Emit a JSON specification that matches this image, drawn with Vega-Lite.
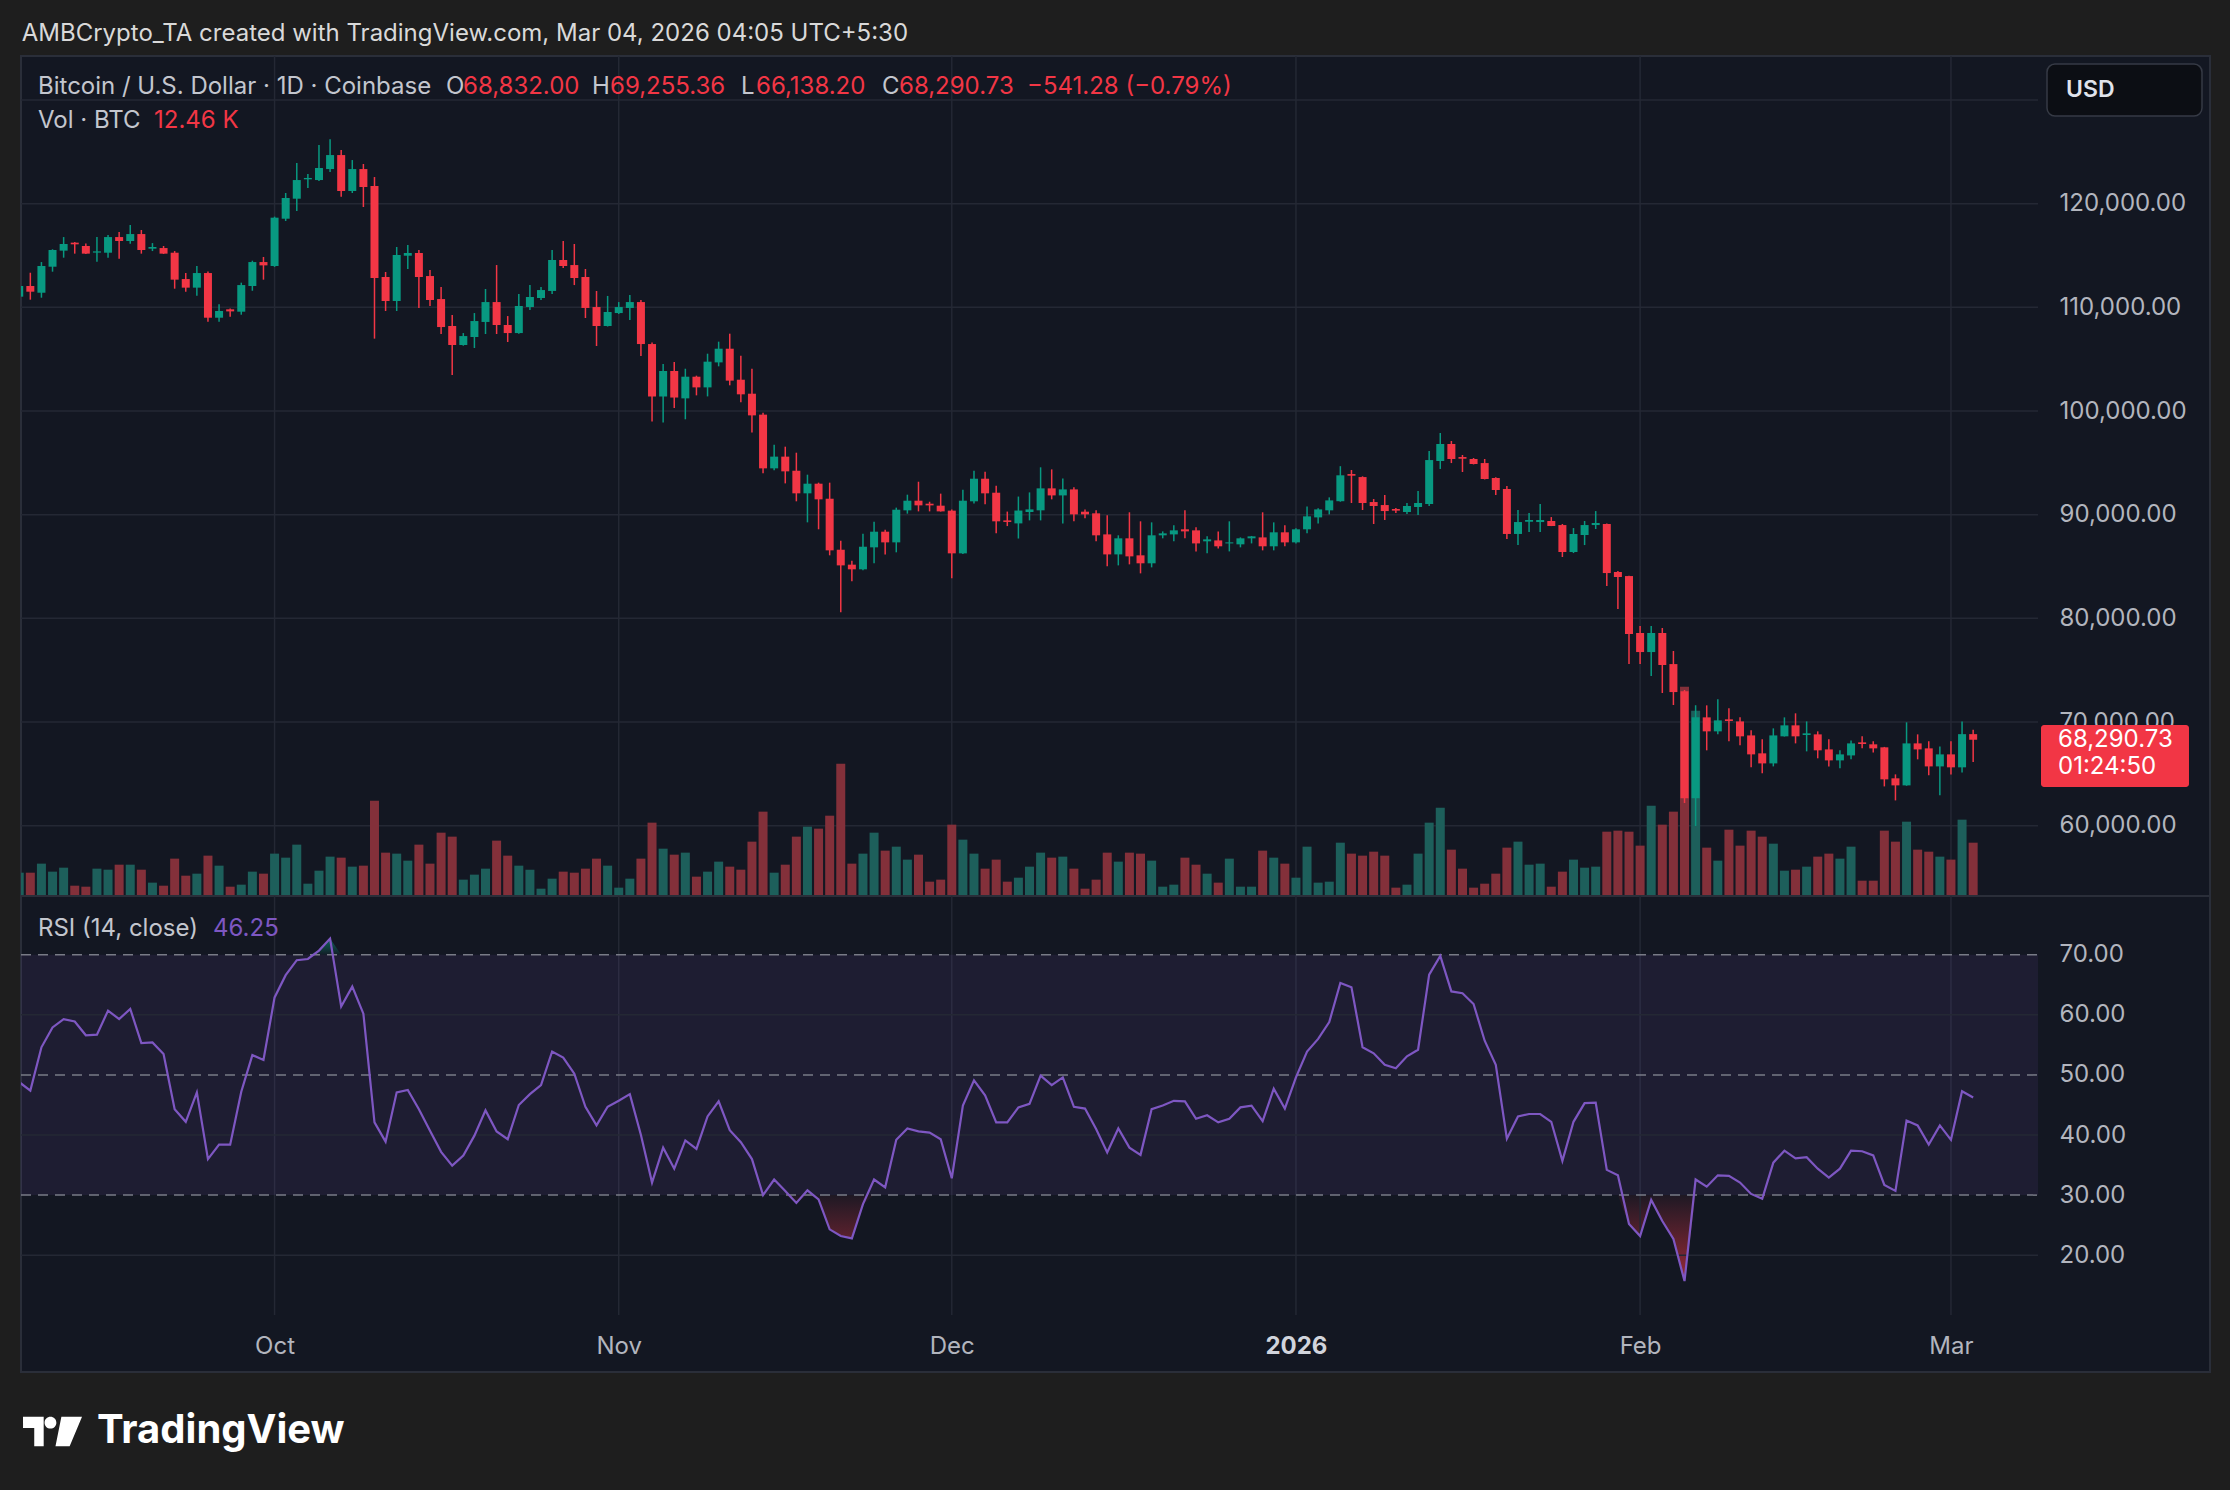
{
"$schema":"https://vega.github.io/schema/vega-lite/v6.json",
"background":"#1e1e1e",
"padding":{"left":19,"top":21,"right":20,"bottom":40},
"spacing":0,
"bounds":"flush",
"config":{"view":{"fill":"#131722","stroke":"#2a2e39","strokeWidth":2},"font":"Inter","text":{"font":"Inter"},"scale":{"continuousPadding":0}},
"datasets":{
"months":[{"d":"2025-10-01"},{"d":"2025-11-01"},{"d":"2025-12-01"},{"d":"2026-01-01"},{"d":"2026-02-01"},{"d":"2026-03-01"}],
"pgrid":[{"p":60000},{"p":70000},{"p":80000},{"p":90000},{"p":100000},{"p":110000},{"p":120000},{"p":130000}],
"rgrid":[{"g":20},{"g":40},{"g":60}],
"rdash":[{"g":30},{"g":50},{"g":70}],
"btc":[
{"d":"2025-09-08","o":111030,"h":112300,"l":110800,"c":112060,"v":5.45,"r":48.8},
{"d":"2025-09-09","o":112060,"h":113340,"l":110740,"c":111510,"v":5.45,"r":47.4},
{"d":"2025-09-10","o":111410,"h":114370,"l":110930,"c":113990,"v":7.56,"r":54.6},
{"d":"2025-09-11","o":113920,"h":115600,"l":113440,"c":115530,"v":5.69,"r":57.9},
{"d":"2025-09-12","o":115470,"h":116780,"l":114790,"c":116110,"v":6.62,"r":59.3},
{"d":"2025-09-13","o":116240,"h":116300,"l":115180,"c":116080,"v":2.41,"r":58.9},
{"d":"2025-09-14","o":115920,"h":116170,"l":115150,"c":115180,"v":2.18,"r":56.6},
{"d":"2025-09-15","o":115280,"h":116780,"l":114410,"c":115400,"v":6.39,"r":56.7},
{"d":"2025-09-16","o":115270,"h":116980,"l":114790,"c":116780,"v":6.15,"r":60.7},
{"d":"2025-09-17","o":116780,"h":117270,"l":114690,"c":116400,"v":7.32,"r":59.3},
{"d":"2025-09-18","o":116400,"h":117940,"l":116140,"c":117070,"v":7.32,"r":61.0},
{"d":"2025-09-19","o":117070,"h":117460,"l":115180,"c":115530,"v":6.15,"r":55.3},
{"d":"2025-09-20","o":115660,"h":116200,"l":115430,"c":115820,"v":3.12,"r":55.4},
{"d":"2025-09-21","o":115720,"h":115920,"l":115150,"c":115180,"v":2.41,"r":53.5},
{"d":"2025-09-22","o":115270,"h":115430,"l":111800,"c":112670,"v":8.73,"r":44.3},
{"d":"2025-09-23","o":112730,"h":113310,"l":111510,"c":111900,"v":4.75,"r":42.2},
{"d":"2025-09-24","o":111900,"h":113990,"l":111130,"c":113310,"v":5.22,"r":47.1},
{"d":"2025-09-25","o":113310,"h":113470,"l":108620,"c":109000,"v":9.43,"r":36.0},
{"d":"2025-09-26","o":109000,"h":110290,"l":108620,"c":109650,"v":7.09,"r":38.4},
{"d":"2025-09-27","o":109810,"h":109900,"l":109100,"c":109610,"v":2.18,"r":38.4},
{"d":"2025-09-28","o":109580,"h":112380,"l":109290,"c":112150,"v":2.65,"r":47.2},
{"d":"2025-09-29","o":112060,"h":114500,"l":111600,"c":114370,"v":5.69,"r":53.3},
{"d":"2025-09-30","o":114370,"h":114860,"l":112670,"c":114050,"v":5.22,"r":52.5},
{"d":"2025-10-01","o":113990,"h":118750,"l":113900,"c":118650,"v":9.9,"r":62.9},
{"d":"2025-10-02","o":118550,"h":121030,"l":118330,"c":120550,"v":8.96,"r":66.6},
{"d":"2025-10-03","o":120480,"h":123920,"l":119290,"c":122280,"v":12.0,"r":69.1},
{"d":"2025-10-04","o":122350,"h":122860,"l":121510,"c":122480,"v":2.88,"r":69.3},
{"d":"2025-10-05","o":122280,"h":125660,"l":122190,"c":123440,"v":5.92,"r":70.7},
{"d":"2025-10-06","o":123340,"h":126210,"l":123050,"c":124690,"v":9.2,"r":72.7},
{"d":"2025-10-07","o":124690,"h":125180,"l":120680,"c":121220,"v":8.96,"r":61.4},
{"d":"2025-10-08","o":121220,"h":124210,"l":121030,"c":123340,"v":6.86,"r":64.7},
{"d":"2025-10-09","o":123340,"h":123830,"l":119680,"c":121610,"v":7.09,"r":60.2},
{"d":"2025-10-10","o":121700,"h":122570,"l":106980,"c":112830,"v":22.28,"r":42.1},
{"d":"2025-10-11","o":112930,"h":113410,"l":109650,"c":110610,"v":10.13,"r":38.9},
{"d":"2025-10-12","o":110610,"h":115820,"l":109650,"c":115050,"v":9.9,"r":47.1},
{"d":"2025-10-13","o":114980,"h":116010,"l":113700,"c":115240,"v":8.26,"r":47.5},
{"d":"2025-10-14","o":115240,"h":115530,"l":109940,"c":112930,"v":12.0,"r":44.3},
{"d":"2025-10-15","o":113020,"h":113600,"l":110130,"c":110710,"v":7.56,"r":40.7},
{"d":"2025-10-16","o":110800,"h":111960,"l":107430,"c":108100,"v":14.8,"r":37.2},
{"d":"2025-10-17","o":108200,"h":109260,"l":103470,"c":106370,"v":13.87,"r":34.9},
{"d":"2025-10-18","o":106370,"h":107520,"l":106300,"c":107230,"v":3.82,"r":36.6},
{"d":"2025-10-19","o":107140,"h":109450,"l":106080,"c":108680,"v":4.99,"r":39.9},
{"d":"2025-10-20","o":108590,"h":111770,"l":107430,"c":110510,"v":6.39,"r":44.1},
{"d":"2025-10-21","o":110510,"h":114080,"l":107430,"c":108300,"v":12.94,"r":40.6},
{"d":"2025-10-22","o":108300,"h":109160,"l":106660,"c":107520,"v":9.43,"r":39.3},
{"d":"2025-10-23","o":107520,"h":111290,"l":107450,"c":110130,"v":7.09,"r":45.0},
{"d":"2025-10-24","o":110030,"h":112150,"l":109740,"c":111000,"v":6.15,"r":46.8},
{"d":"2025-10-25","o":110900,"h":111960,"l":110710,"c":111670,"v":1.71,"r":48.3},
{"d":"2025-10-26","o":111580,"h":115530,"l":111290,"c":114570,"v":4.05,"r":53.9},
{"d":"2025-10-27","o":114570,"h":116400,"l":113800,"c":113990,"v":5.69,"r":52.9},
{"d":"2025-10-28","o":114080,"h":116110,"l":112150,"c":112830,"v":5.45,"r":50.2},
{"d":"2025-10-29","o":112930,"h":113700,"l":108970,"c":109940,"v":6.39,"r":44.7},
{"d":"2025-10-30","o":110030,"h":111580,"l":106270,"c":108200,"v":8.73,"r":41.6},
{"d":"2025-10-31","o":108200,"h":111100,"l":108150,"c":109550,"v":7.09,"r":44.7},
{"d":"2025-11-01","o":109450,"h":110510,"l":109360,"c":110030,"v":1.95,"r":45.7},
{"d":"2025-11-02","o":109940,"h":111190,"l":108780,"c":110510,"v":4.05,"r":46.8},
{"d":"2025-11-03","o":110510,"h":110710,"l":105310,"c":106460,"v":8.73,"r":40.0},
{"d":"2025-11-04","o":106460,"h":106600,"l":99000,"c":101400,"v":17.14,"r":32.1},
{"d":"2025-11-05","o":101400,"h":104530,"l":98900,"c":103860,"v":11.06,"r":37.9},
{"d":"2025-11-06","o":103860,"h":104730,"l":100300,"c":101300,"v":9.66,"r":34.4},
{"d":"2025-11-07","o":101220,"h":104080,"l":99200,"c":103310,"v":10.13,"r":39.1},
{"d":"2025-11-08","o":103310,"h":103410,"l":101510,"c":102280,"v":4.52,"r":37.7},
{"d":"2025-11-09","o":102280,"h":105530,"l":101410,"c":104760,"v":5.69,"r":43.1},
{"d":"2025-11-10","o":104690,"h":106690,"l":104310,"c":106010,"v":8.03,"r":45.6},
{"d":"2025-11-11","o":106010,"h":107460,"l":102480,"c":102930,"v":6.86,"r":40.8},
{"d":"2025-11-12","o":103020,"h":105340,"l":100840,"c":101610,"v":6.15,"r":38.8},
{"d":"2025-11-13","o":101670,"h":104080,"l":97940,"c":99580,"v":12.7,"r":36.0},
{"d":"2025-11-14","o":99650,"h":99840,"l":93990,"c":94470,"v":19.71,"r":30.0},
{"d":"2025-11-15","o":94470,"h":96750,"l":94280,"c":95600,"v":5.45,"r":32.6},
{"d":"2025-11-16","o":95600,"h":96560,"l":93020,"c":94180,"v":7.32,"r":30.7},
{"d":"2025-11-17","o":94240,"h":95980,"l":91290,"c":92060,"v":13.87,"r":28.7},
{"d":"2025-11-18","o":92060,"h":93860,"l":89260,"c":92990,"v":16.2,"r":30.8},
{"d":"2025-11-19","o":92990,"h":93090,"l":88590,"c":91480,"v":15.74,"r":29.3},
{"d":"2025-11-20","o":91540,"h":93090,"l":86080,"c":86560,"v":18.77,"r":24.3},
{"d":"2025-11-21","o":86620,"h":87490,"l":80580,"c":85110,"v":30.93,"r":23.2},
{"d":"2025-11-22","o":85180,"h":85560,"l":83570,"c":84730,"v":7.56,"r":22.8},
{"d":"2025-11-23","o":84730,"h":88170,"l":84650,"c":86910,"v":9.9,"r":28.5},
{"d":"2025-11-24","o":86850,"h":89320,"l":85310,"c":88360,"v":14.8,"r":32.6},
{"d":"2025-11-25","o":88360,"h":88550,"l":86170,"c":87330,"v":10.6,"r":31.3},
{"d":"2025-11-26","o":87330,"h":90680,"l":86370,"c":90480,"v":11.53,"r":39.2},
{"d":"2025-11-27","o":90420,"h":91930,"l":90100,"c":91350,"v":8.5,"r":41.1},
{"d":"2025-11-28","o":91350,"h":93180,"l":90320,"c":90900,"v":9.66,"r":40.6},
{"d":"2025-11-29","o":91060,"h":91250,"l":90320,"c":90900,"v":3.35,"r":40.4},
{"d":"2025-11-30","o":90870,"h":92030,"l":90300,"c":90320,"v":3.82,"r":39.3},
{"d":"2025-12-01","o":90390,"h":90500,"l":83860,"c":86270,"v":16.67,"r":32.8},
{"d":"2025-12-02","o":86270,"h":92410,"l":86200,"c":91350,"v":13.17,"r":44.9},
{"d":"2025-12-03","o":91290,"h":94240,"l":91090,"c":93470,"v":9.9,"r":49.1},
{"d":"2025-12-04","o":93470,"h":94150,"l":91000,"c":92060,"v":6.39,"r":46.6},
{"d":"2025-12-05","o":92120,"h":92800,"l":88200,"c":89360,"v":8.5,"r":42.1},
{"d":"2025-12-06","o":89450,"h":90300,"l":88900,"c":89300,"v":3.35,"r":42.1},
{"d":"2025-12-07","o":89160,"h":91750,"l":87700,"c":90400,"v":4.28,"r":44.6},
{"d":"2025-12-08","o":90260,"h":92150,"l":89450,"c":90510,"v":6.86,"r":45.2},
{"d":"2025-12-09","o":90420,"h":94570,"l":89450,"c":92540,"v":10.13,"r":49.9},
{"d":"2025-12-10","o":92540,"h":94370,"l":91480,"c":91860,"v":8.96,"r":48.3},
{"d":"2025-12-11","o":91860,"h":93500,"l":89160,"c":92440,"v":9.2,"r":49.6},
{"d":"2025-12-12","o":92440,"h":92640,"l":89360,"c":90030,"v":6.39,"r":44.7},
{"d":"2025-12-13","o":90290,"h":90510,"l":89650,"c":90030,"v":1.71,"r":44.4},
{"d":"2025-12-14","o":90130,"h":90420,"l":87430,"c":88010,"v":3.82,"r":41.0},
{"d":"2025-12-15","o":88100,"h":89940,"l":85020,"c":86170,"v":10.13,"r":37.1},
{"d":"2025-12-16","o":86170,"h":88010,"l":85110,"c":87720,"v":8.03,"r":41.1},
{"d":"2025-12-17","o":87720,"h":90230,"l":85210,"c":85980,"v":10.13,"r":37.9},
{"d":"2025-12-18","o":86080,"h":89360,"l":84340,"c":85310,"v":9.9,"r":36.7},
{"d":"2025-12-19","o":85310,"h":89260,"l":84920,"c":88010,"v":8.26,"r":44.3},
{"d":"2025-12-20","o":88010,"h":88390,"l":87720,"c":88200,"v":2.18,"r":44.9},
{"d":"2025-12-21","o":88100,"h":88970,"l":87430,"c":88490,"v":2.65,"r":45.7},
{"d":"2025-12-22","o":88590,"h":90420,"l":87720,"c":88390,"v":8.96,"r":45.6},
{"d":"2025-12-23","o":88490,"h":88780,"l":86460,"c":87230,"v":7.32,"r":42.7},
{"d":"2025-12-24","o":87430,"h":87910,"l":86270,"c":87620,"v":5.22,"r":43.3},
{"d":"2025-12-25","o":87520,"h":88390,"l":86750,"c":86950,"v":3.12,"r":42.1},
{"d":"2025-12-26","o":87230,"h":89360,"l":86460,"c":87330,"v":8.73,"r":42.7},
{"d":"2025-12-27","o":87140,"h":87810,"l":86850,"c":87720,"v":2.18,"r":44.6},
{"d":"2025-12-28","o":87720,"h":87950,"l":87230,"c":87910,"v":2.18,"r":44.9},
{"d":"2025-12-29","o":87810,"h":90230,"l":86560,"c":86950,"v":10.6,"r":42.3},
{"d":"2025-12-30","o":86950,"h":89260,"l":86560,"c":88300,"v":8.96,"r":47.7},
{"d":"2025-12-31","o":88300,"h":88970,"l":86950,"c":87330,"v":7.56,"r":44.4},
{"d":"2026-01-01","o":87330,"h":88680,"l":87230,"c":88590,"v":4.28,"r":49.6},
{"d":"2026-01-02","o":88590,"h":90800,"l":88200,"c":89840,"v":11.53,"r":53.9},
{"d":"2026-01-03","o":89740,"h":90610,"l":89160,"c":90510,"v":3.12,"r":56.0},
{"d":"2026-01-04","o":90420,"h":91670,"l":90030,"c":91380,"v":3.35,"r":58.8},
{"d":"2026-01-05","o":91300,"h":94680,"l":91250,"c":93800,"v":12.46,"r":65.3},
{"d":"2026-01-06","o":93920,"h":94310,"l":91130,"c":93760,"v":9.9,"r":64.6},
{"d":"2026-01-07","o":93630,"h":93700,"l":90450,"c":91130,"v":9.43,"r":54.6},
{"d":"2026-01-08","o":91220,"h":91510,"l":89100,"c":90840,"v":10.36,"r":53.6},
{"d":"2026-01-09","o":90930,"h":91900,"l":89490,"c":90350,"v":9.43,"r":51.7},
{"d":"2026-01-10","o":90550,"h":90640,"l":90160,"c":90390,"v":1.95,"r":51.1},
{"d":"2026-01-11","o":90260,"h":91130,"l":90060,"c":90840,"v":2.65,"r":53.1},
{"d":"2026-01-12","o":90740,"h":92280,"l":89970,"c":91130,"v":9.9,"r":54.2},
{"d":"2026-01-13","o":91030,"h":96140,"l":90840,"c":95270,"v":17.14,"r":66.7},
{"d":"2026-01-14","o":95180,"h":97880,"l":94410,"c":96820,"v":20.65,"r":69.8},
{"d":"2026-01-15","o":96820,"h":97110,"l":94980,"c":95370,"v":10.83,"r":63.9},
{"d":"2026-01-16","o":95560,"h":95760,"l":94120,"c":95400,"v":6.39,"r":63.6},
{"d":"2026-01-17","o":95370,"h":95470,"l":94850,"c":94890,"v":1.95,"r":61.8},
{"d":"2026-01-18","o":94980,"h":95370,"l":93400,"c":93440,"v":2.88,"r":55.7},
{"d":"2026-01-19","o":93540,"h":93600,"l":91900,"c":92380,"v":5.22,"r":51.7},
{"d":"2026-01-20","o":92480,"h":92770,"l":87650,"c":88140,"v":11.3,"r":39.4},
{"d":"2026-01-21","o":88140,"h":90450,"l":87070,"c":89290,"v":12.7,"r":43.1},
{"d":"2026-01-22","o":89320,"h":90160,"l":88330,"c":89490,"v":7.32,"r":43.5},
{"d":"2026-01-23","o":89290,"h":91030,"l":88330,"c":89490,"v":7.56,"r":43.5},
{"d":"2026-01-24","o":89390,"h":89770,"l":88900,"c":88910,"v":2.18,"r":42.2},
{"d":"2026-01-25","o":89000,"h":89100,"l":85920,"c":86400,"v":5.69,"r":35.7},
{"d":"2026-01-26","o":86400,"h":88710,"l":86300,"c":88140,"v":8.5,"r":42.2},
{"d":"2026-01-27","o":88040,"h":89390,"l":87070,"c":89000,"v":6.62,"r":45.3},
{"d":"2026-01-28","o":89000,"h":90350,"l":88620,"c":89200,"v":6.86,"r":45.4},
{"d":"2026-01-29","o":89100,"h":89150,"l":83120,"c":84370,"v":15.03,"r":34.2},
{"d":"2026-01-30","o":84470,"h":84570,"l":80900,"c":83990,"v":15.27,"r":33.3},
{"d":"2026-01-31","o":84080,"h":84100,"l":75590,"c":78490,"v":15.03,"r":25.2},
{"d":"2026-02-01","o":78590,"h":79260,"l":75590,"c":76750,"v":11.77,"r":23.2},
{"d":"2026-02-02","o":76750,"h":79260,"l":74440,"c":78590,"v":21.11,"r":29.2},
{"d":"2026-02-03","o":78590,"h":79070,"l":72800,"c":75500,"v":16.67,"r":25.7},
{"d":"2026-02-04","o":75590,"h":76850,"l":71640,"c":72890,"v":19.71,"r":22.7},
{"d":"2026-02-05","o":72970,"h":73090,"l":62190,"c":62650,"v":48.9,"r":15.7},
{"d":"2026-02-06","o":62650,"h":71620,"l":59970,"c":70460,"v":43.3,"r":32.6},
{"d":"2026-02-07","o":70450,"h":71610,"l":67270,"c":69100,"v":11.3,"r":31.4},
{"d":"2026-02-08","o":69100,"h":72190,"l":68810,"c":70160,"v":8.26,"r":33.3},
{"d":"2026-02-09","o":70260,"h":71320,"l":68140,"c":70100,"v":15.5,"r":33.2},
{"d":"2026-02-10","o":70060,"h":70450,"l":67750,"c":68620,"v":11.77,"r":32.1},
{"d":"2026-02-11","o":68710,"h":69200,"l":65630,"c":66880,"v":15.27,"r":30.2},
{"d":"2026-02-12","o":66980,"h":68330,"l":65050,"c":66010,"v":13.87,"r":29.4},
{"d":"2026-02-13","o":66010,"h":69390,"l":65720,"c":68710,"v":12.23,"r":35.4},
{"d":"2026-02-14","o":68620,"h":70450,"l":68600,"c":69680,"v":5.92,"r":37.4},
{"d":"2026-02-15","o":69680,"h":70840,"l":67940,"c":68620,"v":6.15,"r":36.1},
{"d":"2026-02-16","o":68750,"h":70060,"l":67170,"c":68910,"v":6.86,"r":36.3},
{"d":"2026-02-17","o":68810,"h":69100,"l":66500,"c":67270,"v":9.2,"r":34.4},
{"d":"2026-02-18","o":67360,"h":68330,"l":65720,"c":66300,"v":9.9,"r":32.9},
{"d":"2026-02-19","o":66300,"h":67270,"l":65530,"c":66880,"v":8.73,"r":34.4},
{"d":"2026-02-20","o":66780,"h":68230,"l":66400,"c":67940,"v":11.53,"r":37.4},
{"d":"2026-02-21","o":68040,"h":68620,"l":67460,"c":67880,"v":3.58,"r":37.3},
{"d":"2026-02-22","o":67850,"h":68140,"l":67070,"c":67460,"v":3.58,"r":36.6},
{"d":"2026-02-23","o":67560,"h":67600,"l":63790,"c":64470,"v":15.27,"r":31.7},
{"d":"2026-02-24","o":64570,"h":64950,"l":62440,"c":63890,"v":12.7,"r":30.7},
{"d":"2026-02-25","o":63890,"h":69970,"l":63850,"c":67940,"v":17.37,"r":42.4},
{"d":"2026-02-26","o":67940,"h":68810,"l":66400,"c":67360,"v":10.83,"r":41.6},
{"d":"2026-02-27","o":67460,"h":68140,"l":64860,"c":65720,"v":10.36,"r":38.4},
{"d":"2026-02-28","o":65720,"h":67650,"l":62930,"c":66880,"v":9.2,"r":41.6},
{"d":"2026-03-01","o":66880,"h":68140,"l":64950,"c":65630,"v":8.5,"r":39.2},
{"d":"2026-03-02","o":65630,"h":70060,"l":65140,"c":68832,"v":17.84,"r":47.3},
{"d":"2026-03-03","o":68832,"h":69255.36,"l":66138.2,"c":68290.73,"v":12.46,"r":46.25}
]},
"vconcat":[
{
"width":2189,"height":840,
"resolve":{"scale":{"y":"independent"}},
"layer":[
 {"layer":[
  {"data":{"name":"months"},"mark":{"type":"rule","color":"#242834","strokeWidth":1.5},
   "encoding":{"x":{"field":"d","type":"temporal","axis":null,"scale":{"type":"utc","nice":false,"padding":0,"range":[0,2017],"domain":[{"year":2025,"month":9,"date":8,"hours":3,"minutes":50,"utc":true},{"year":2026,"month":3,"date":8,"hours":20,"minutes":10,"utc":true}]}}}},
  {"data":{"name":"pgrid"},"mark":{"type":"rule","color":"#242834","strokeWidth":1.5},
   "encoding":{"y":{"field":"p","type":"quantitative","axis":null,"scale":{"domain":[53219,134245],"nice":false,"zero":false}},
    "x":{"datum":{"year":2025,"month":9,"date":8,"hours":3,"minutes":50,"utc":true},"type":"temporal","axis":null},
    "x2":{"datum":{"year":2026,"month":3,"date":8,"hours":20,"minutes":10,"utc":true}}}}
 ]},
 {"data":{"name":"btc"},"mark":{"type":"bar","width":9,"clip":true},
  "encoding":{"x":{"field":"d","type":"temporal","axis":null,"scale":{"type":"utc","nice":false,"padding":0,"range":[0,2017],"domain":[{"year":2025,"month":9,"date":8,"hours":3,"minutes":50,"utc":true},{"year":2026,"month":3,"date":8,"hours":20,"minutes":10,"utc":true}]}},
   "y":{"field":"v","type":"quantitative","axis":null,"scale":{"domain":[0,196.3],"nice":false,"padding":0}},
   "color":{"condition":{"test":"datum.c >= datum.o","value":"#1d5f5b"},"value":"#83303a"}}},
 {"layer":[
  {"data":{"name":"btc"},"mark":{"type":"rule","strokeWidth":1.5,"clip":true},
   "encoding":{"x":{"field":"d","type":"temporal","axis":null},
    "y":{"field":"l","type":"quantitative","scale":{"domain":[53219,134245],"nice":false,"zero":false,"padding":0},
     "axis":{"orient":"right","values":[60000,70000,80000,90000,100000,110000,120000],"format":",.2f","offset":-171,"labelPadding":20,"tickSize":0,"ticks":false,"domain":false,"grid":false,"labelFontSize":24,"labelColor":"#b2b5be","labelFont":"Inter","title":null,"labelOverlap":false,"labelBaseline":"middle","labelAlign":"left"}},
    "y2":{"field":"h"},
    "color":{"condition":{"test":"datum.c >= datum.o","value":"#089981"},"value":"#f23645"}}},
  {"data":{"name":"btc"},"mark":{"type":"bar","width":8,"clip":true,"minBandSize":1.5},
   "encoding":{"x":{"field":"d","type":"temporal","axis":null},
    "y":{"field":"o","type":"quantitative"},"y2":{"field":"c"},
    "color":{"condition":{"test":"datum.c >= datum.o","value":"#089981"},"value":"#f23645"}}},
  {"data":{"values":[{}]},"mark":{"type":"text","text":"AMBCrypto_TA created with TradingView.com, Mar 04, 2026 04:05 UTC+5:30","align":"left","baseline":"middle","fontSize":24,"color":"#d9d9d9"},
   "encoding":{"x":{"datum":{"year":2025,"month":9,"date":8,"hours":5,"minutes":20,"utc":true},"type":"temporal","axis":null},"y":{"datum":136367,"type":"quantitative"}}},
  {"data":{"values":[{}]},"mark":{"type":"text","text":"Bitcoin / U.S. Dollar · 1D · Coinbase","align":"left","baseline":"middle","fontSize":24,"color":"#c3c6ce"},
   "encoding":{"x":{"datum":{"year":2025,"month":9,"date":9,"hours":16,"minutes":35,"utc":true},"type":"temporal","axis":null},"y":{"datum":131255,"type":"quantitative"}}},
  {"data":{"values":[{}]},"mark":{"type":"text","text":"O","align":"left","baseline":"middle","fontSize":24,"color":"#c3c6ce","dx":408},
   "encoding":{"x":{"datum":{"year":2025,"month":9,"date":9,"hours":16,"minutes":35,"utc":true},"type":"temporal","axis":null},"y":{"datum":131255,"type":"quantitative"}}},
  {"data":{"values":[{}]},"mark":{"type":"text","text":"68,832.00","align":"left","baseline":"middle","fontSize":24,"color":"#f23645","dx":425},
   "encoding":{"x":{"datum":{"year":2025,"month":9,"date":9,"hours":16,"minutes":35,"utc":true},"type":"temporal","axis":null},"y":{"datum":131255,"type":"quantitative"}}},
  {"data":{"values":[{}]},"mark":{"type":"text","text":"H","align":"left","baseline":"middle","fontSize":24,"color":"#c3c6ce","dx":554},
   "encoding":{"x":{"datum":{"year":2025,"month":9,"date":9,"hours":16,"minutes":35,"utc":true},"type":"temporal","axis":null},"y":{"datum":131255,"type":"quantitative"}}},
  {"data":{"values":[{}]},"mark":{"type":"text","text":"69,255.36","align":"left","baseline":"middle","fontSize":24,"color":"#f23645","dx":572},
   "encoding":{"x":{"datum":{"year":2025,"month":9,"date":9,"hours":16,"minutes":35,"utc":true},"type":"temporal","axis":null},"y":{"datum":131255,"type":"quantitative"}}},
  {"data":{"values":[{}]},"mark":{"type":"text","text":"L","align":"left","baseline":"middle","fontSize":24,"color":"#c3c6ce","dx":703},
   "encoding":{"x":{"datum":{"year":2025,"month":9,"date":9,"hours":16,"minutes":35,"utc":true},"type":"temporal","axis":null},"y":{"datum":131255,"type":"quantitative"}}},
  {"data":{"values":[{}]},"mark":{"type":"text","text":"66,138.20","align":"left","baseline":"middle","fontSize":24,"color":"#f23645","dx":718},
   "encoding":{"x":{"datum":{"year":2025,"month":9,"date":9,"hours":16,"minutes":35,"utc":true},"type":"temporal","axis":null},"y":{"datum":131255,"type":"quantitative"}}},
  {"data":{"values":[{}]},"mark":{"type":"text","text":"C","align":"left","baseline":"middle","fontSize":24,"color":"#c3c6ce","dx":844},
   "encoding":{"x":{"datum":{"year":2025,"month":9,"date":9,"hours":16,"minutes":35,"utc":true},"type":"temporal","axis":null},"y":{"datum":131255,"type":"quantitative"}}},
  {"data":{"values":[{}]},"mark":{"type":"text","text":"68,290.73","align":"left","baseline":"middle","fontSize":24,"color":"#f23645","dx":861},
   "encoding":{"x":{"datum":{"year":2025,"month":9,"date":9,"hours":16,"minutes":35,"utc":true},"type":"temporal","axis":null},"y":{"datum":131255,"type":"quantitative"}}},
  {"data":{"values":[{}]},"mark":{"type":"text","text":"−541.28 (−0.79%)","align":"left","baseline":"middle","fontSize":24,"color":"#f23645","dx":989},
   "encoding":{"x":{"datum":{"year":2025,"month":9,"date":9,"hours":16,"minutes":35,"utc":true},"type":"temporal","axis":null},"y":{"datum":131255,"type":"quantitative"}}},
  {"data":{"values":[{}]},"mark":{"type":"text","text":"Vol · BTC","align":"left","baseline":"middle","fontSize":24,"color":"#c3c6ce"},
   "encoding":{"x":{"datum":{"year":2025,"month":9,"date":9,"hours":16,"minutes":35,"utc":true},"type":"temporal","axis":null},"y":{"datum":128004,"type":"quantitative"}}},
  {"data":{"values":[{}]},"mark":{"type":"text","text":"12.46 K","align":"left","baseline":"middle","fontSize":24,"color":"#f23645","dx":116},
   "encoding":{"x":{"datum":{"year":2025,"month":9,"date":9,"hours":16,"minutes":35,"utc":true},"type":"temporal","axis":null},"y":{"datum":128004,"type":"quantitative"}}},
  {"data":{"values":[{}]},"mark":{"type":"rect","fill":"#0c0e14","stroke":"#363a45","strokeWidth":1.5,"cornerRadius":8},
   "encoding":{"x":{"datum":{"year":2026,"month":3,"date":9,"hours":15,"minutes":37,"utc":true},"type":"temporal","axis":null},
    "x2":{"datum":{"year":2026,"month":3,"date":23,"hours":14,"minutes":41,"utc":true}},
    "y":{"datum":133473,"type":"quantitative"},"y2":{"datum":128457}}},
  {"data":{"values":[{}]},"mark":{"type":"text","text":"USD","align":"left","baseline":"middle","fontSize":23,"fontWeight":600,"color":"#e0e3eb"},
   "encoding":{"x":{"datum":{"year":2026,"month":3,"date":11,"hours":8,"minutes":42,"utc":true},"type":"temporal","axis":null},"y":{"datum":130965,"type":"quantitative"}}},
  {"data":{"values":[{}]},"mark":{"type":"rect","fill":"#f23645","cornerRadius":3},
   "encoding":{"x":{"datum":{"year":2026,"month":3,"date":9,"hours":2,"minutes":39,"utc":true},"type":"temporal","axis":null},
    "x2":{"datum":{"year":2026,"month":3,"date":22,"hours":10,"minutes":35,"utc":true}},
    "y":{"datum":69713,"type":"quantitative"},"y2":{"datum":63733}}},
  {"data":{"values":[{}]},"mark":{"type":"text","text":"68,290.73","align":"left","baseline":"middle","fontSize":24,"color":"#ffffff"},
   "encoding":{"x":{"datum":{"year":2026,"month":3,"date":10,"hours":15,"minutes":24,"utc":true},"type":"temporal","axis":null},"y":{"datum":68290.73,"type":"quantitative"}}},
  {"data":{"values":[{}]},"mark":{"type":"text","text":"01:24:50","align":"left","baseline":"middle","fontSize":24,"color":"#ffffff"},
   "encoding":{"x":{"datum":{"year":2026,"month":3,"date":10,"hours":15,"minutes":24,"utc":true},"type":"temporal","axis":null},"y":{"datum":65662,"type":"quantitative"}}}
 ]}
]
},
{
"width":2189,"height":476,
"resolve":{"scale":{"y":"independent"}},
"layer":[
 {"data":{"name":"btc"},"mark":{"type":"area","clip":true,"color":{"gradient":"linear","x1":0,"y1":0,"x2":0,"y2":1,"stops":[{"offset":0,"color":"rgba(242,54,69,0.05)"},{"offset":1,"color":"rgba(242,54,69,0.6)"}]}},
  "encoding":{"x":{"field":"d","type":"temporal","scale":{"type":"utc","nice":false,"padding":0,"range":[0,2017],"domain":[{"year":2025,"month":9,"date":8,"hours":3,"minutes":50,"utc":true},{"year":2026,"month":3,"date":8,"hours":20,"minutes":10,"utc":true}]}},
   "y":{"field":"r","type":"quantitative","axis":null,"scale":{"domain":[10.05,30],"range":[419,299.12],"clamp":true,"nice":false,"zero":false}},
   "y2":{"datum":30}}},
 {"data":{"name":"btc"},"mark":{"type":"area","clip":true,"color":{"gradient":"linear","x1":0,"y1":1,"x2":0,"y2":0,"stops":[{"offset":0,"color":"rgba(8,153,129,0.05)"},{"offset":1,"color":"rgba(8,153,129,0.6)"}]}},
  "encoding":{"x":{"field":"d","type":"temporal"},
   "y":{"field":"r","type":"quantitative","axis":null,"scale":{"domain":[70,79.78],"range":[58.77,0],"clamp":true,"nice":false,"zero":false}},
   "y2":{"datum":70}}},
 {"layer":[
  {"data":{"name":"months"},"mark":{"type":"rule","color":"#242834","strokeWidth":1.5},
   "encoding":{"x":{"field":"d","type":"temporal"},
    "y":{"datum":79.78,"type":"quantitative","scale":{"domain":[10.05,79.78],"range":[419,0],"nice":false,"zero":false},
     "axis":{"orient":"right","values":[20,30,40,50,60,70],"format":".2f","offset":-171,"labelPadding":20,"tickSize":0,"ticks":false,"domain":false,"grid":false,"labelFontSize":24,"labelColor":"#b2b5be","labelFont":"Inter","title":null,"labelOverlap":false,"labelBaseline":"middle","labelAlign":"left"}},
    "y2":{"datum":10.05}}},
  {"data":{"values":[{}]},"mark":{"type":"rect","color":"#7e57c2","opacity":0.1},
   "encoding":{"x":{"datum":{"year":2025,"month":9,"date":8,"hours":3,"minutes":50,"utc":true},"type":"temporal"},
    "x2":{"datum":{"year":2026,"month":3,"date":8,"hours":20,"minutes":10,"utc":true}},
    "y":{"datum":70,"type":"quantitative"},"y2":{"datum":30}}},
  {"data":{"name":"rgrid"},"mark":{"type":"rule","color":"#242834","strokeWidth":1.5},
   "encoding":{"y":{"field":"g","type":"quantitative"},
    "x":{"datum":{"year":2025,"month":9,"date":8,"hours":3,"minutes":50,"utc":true},"type":"temporal"},
    "x2":{"datum":{"year":2026,"month":3,"date":8,"hours":20,"minutes":10,"utc":true}}}},
  {"data":{"name":"rdash"},"mark":{"type":"rule","color":"#787b86","strokeWidth":1.5,"strokeDash":[10,7]},
   "encoding":{"y":{"field":"g","type":"quantitative"},
    "x":{"datum":{"year":2025,"month":9,"date":8,"hours":3,"minutes":50,"utc":true},"type":"temporal"},
    "x2":{"datum":{"year":2026,"month":3,"date":8,"hours":20,"minutes":10,"utc":true}}}},
  {"data":{"name":"btc"},"mark":{"type":"line","color":"#7e57c2","strokeWidth":2.2,"clip":true},
   "encoding":{"x":{"field":"d","type":"temporal",
     "axis":{"orient":"bottom","offset":-57,"tickCount":{"interval":"month","step":1},"labelExpr":"utcmonth(datum.value)==0 ? utcFormat(datum.value,'%Y') : utcFormat(datum.value,'%b')","labelFontWeight":{"condition":{"test":"utcmonth(datum.value)==0","value":"bold"},"value":"normal"},"labelColor":{"condition":{"test":"utcmonth(datum.value)==0","value":"#d1d4dc"},"value":"#b2b5be"},"labelFontSize":24,"labelFont":"Inter","labelPadding":31,"labelBaseline":"middle","tickSize":0,"ticks":false,"domain":false,"grid":false,"title":null,"labelFlush":false,"labelOverlap":false}},
    "y":{"field":"r","type":"quantitative"}}},
  {"data":{"values":[{}]},"mark":{"type":"text","text":"RSI (14, close)","align":"left","baseline":"middle","fontSize":24,"color":"#c3c6ce"},
   "encoding":{"x":{"datum":{"year":2025,"month":9,"date":9,"hours":16,"minutes":35,"utc":true},"type":"temporal"},"y":{"datum":74.29,"type":"quantitative"}}},
  {"data":{"values":[{}]},"mark":{"type":"text","text":"46.25","align":"left","baseline":"middle","fontSize":24,"color":"#7e57c2","dx":175},
   "encoding":{"x":{"datum":{"year":2025,"month":9,"date":9,"hours":16,"minutes":35,"utc":true},"type":"temporal"},"y":{"datum":74.29,"type":"quantitative"}}},
  {"data":{"values":[{}]},"mark":{"type":"text","text":"TradingView","align":"left","baseline":"middle","fontSize":40,"fontWeight":"bold","color":"#ffffff"},
   "encoding":{"x":{"datum":{"year":2025,"month":9,"date":15,"hours":0,"minutes":0,"utc":true},"type":"temporal"},"y":{"datum":-9.25,"type":"quantitative"}}},
  {"data":{"values":[{}]},"mark":{"type":"point","shape":"M-1,-0.5H-0.3V0.5H-0.62V-0.12H-1Z M-0.27,-0.3A0.2,0.2 0 1,0 0.13,-0.3A0.2,0.2 0 1,0 -0.27,-0.3Z M0.3,-0.5H1L0.58,0.5H0.1Z","filled":true,"size":3481,"color":"#ffffff","opacity":1,"strokeWidth":0},
   "encoding":{"x":{"datum":{"year":2025,"month":9,"date":11,"hours":0,"minutes":0,"utc":true},"type":"temporal"},"y":{"datum":-9.35,"type":"quantitative"}}}
 ]}
]
}
]
}
